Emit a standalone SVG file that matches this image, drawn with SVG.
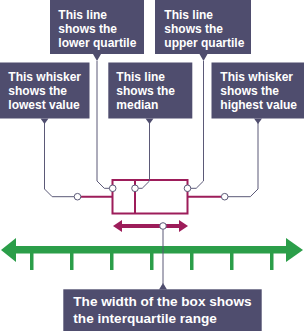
<svg xmlns="http://www.w3.org/2000/svg" width="304" height="334" viewBox="0 0 304 334">
<style>
.lbl{fill:#4f4d6e}
.t{font-family:"Liberation Sans",Arial,sans-serif;font-weight:bold;font-size:12px;fill:#ffffff}
.tb{font-family:"Liberation Sans",Arial,sans-serif;font-weight:bold;font-size:13.6px;fill:#ffffff}
.con{fill:none;stroke:#5b5977;stroke-width:1}
.dot{fill:#ffffff;stroke:#5b5977;stroke-width:1}
.plot{fill:none;stroke:#9d1d5a;stroke-width:2}
.green{fill:#2b9e49}
</style>
<rect width="304" height="334" fill="#ffffff"/>
<g id="axis">
<rect class="green" x="14" y="246" width="274" height="7.5"/>
<polygon class="green" points="1,250 16,238 16,262"/>
<polygon class="green" points="303,250 286,238 286,262"/>
<rect class="green" x="30" y="253" width="3.5" height="17"/>
<rect class="green" x="70" y="253" width="3.5" height="17"/>
<rect class="green" x="110" y="253" width="3.5" height="17"/>
<rect class="green" x="150" y="253" width="3.5" height="17"/>
<rect class="green" x="190" y="253" width="3.5" height="17"/>
<rect class="green" x="230" y="253" width="3.5" height="17"/>
<rect class="green" x="270" y="253" width="3.5" height="17"/>
</g>
<g id="boxplot">
<rect class="plot" x="112.5" y="180" width="75" height="33.5"/>
<line class="plot" x1="135" y1="180" x2="135" y2="213.5"/>
<line class="plot" x1="80.5" y1="196.7" x2="112.5" y2="196.7"/>
<line class="plot" x1="187.5" y1="196.7" x2="221.5" y2="196.7"/>
</g>
<g id="iqr-arrow">
<line x1="120" y1="226" x2="181" y2="226" stroke="#9d1d5a" stroke-width="4"/>
<polygon fill="#9d1d5a" points="113,226 122,220 122,232"/>
<polygon fill="#9d1d5a" points="188,226 179,220 179,232"/>
</g>
<g id="connectors">
<polyline class="con" points="44.5,121 44.5,189 52.2,196.7 74.2,196.7"/>
<polyline class="con" points="97,61 97,181 104.3,188.3 109.4,188.3"/>
<polyline class="con" points="149.5,121 149.5,181 142.2,188.3 138.3,188.3"/>
<polyline class="con" points="203.5,61 203.5,181 196.2,188.3 190.8,188.3"/>
<polyline class="con" points="258,121 258,189 250.3,196.7 228,196.7"/>
<line class="con" x1="163" y1="229.5" x2="163" y2="284"/>
<circle class="dot" cx="77.5" cy="196.7" r="3.3"/>
<circle class="dot" cx="112.7" cy="188.3" r="3.3"/>
<circle class="dot" cx="135" cy="188.3" r="3.3"/>
<circle class="dot" cx="187.5" cy="188.3" r="3.3"/>
<circle class="dot" cx="224.7" cy="196.7" r="3.3"/>
<circle class="dot" cx="163" cy="226" r="3.3"/>
</g>
<g id="lower-quartile">
<rect class="lbl" x="50" y="0" width="94" height="54"/>
<polygon class="lbl" points="93,54 101,54 97,61"/>
<text class="t" x="58.3" y="18.5">This line</text>
<text class="t" x="58.3" y="32.5">shows the</text>
<text class="t" x="58.3" y="46.5">lower quartile</text>
</g>
<g id="upper-quartile">
<rect class="lbl" x="155" y="0" width="96" height="54"/>
<polygon class="lbl" points="199.5,54 207.5,54 203.5,61"/>
<text class="t" x="164.3" y="18.5">This line</text>
<text class="t" x="164.3" y="32.5">shows the</text>
<text class="t" x="164.3" y="46.5">upper quartile</text>
</g>
<g id="lowest">
<rect class="lbl" x="0" y="62.5" width="89.5" height="56"/>
<polygon class="lbl" points="40.5,118.5 48.5,118.5 44.5,124"/>
<text class="t" x="8.3" y="80.5">This whisker</text>
<text class="t" x="8.3" y="94.5">shows the</text>
<text class="t" x="8.3" y="108.5">lowest value</text>
</g>
<g id="median">
<rect class="lbl" x="108.3" y="62.5" width="84" height="56"/>
<polygon class="lbl" points="145.5,118.5 153.5,118.5 149.5,124"/>
<text class="t" x="116.3" y="80.5">This line</text>
<text class="t" x="116.3" y="94.5">shows the</text>
<text class="t" x="116.3" y="108.5">median</text>
</g>
<g id="highest">
<rect class="lbl" x="211.5" y="62.5" width="92.5" height="56"/>
<polygon class="lbl" points="254,118.5 262,118.5 258,124"/>
<text class="t" x="220.3" y="80.5">This whisker</text>
<text class="t" x="220.3" y="94.5">shows the</text>
<text class="t" x="220.3" y="108.5">highest value</text>
</g>
<g id="iqr-label">
<rect class="lbl" x="63.3" y="289.3" width="198.4" height="41.7"/>
<polygon class="lbl" points="159,289.5 167,289.5 163,283"/>
<text class="tb" x="73.3" y="306">The width of the box shows</text>
<text class="tb" x="73.3" y="323">the interquartile range</text>
</g>
</svg>
